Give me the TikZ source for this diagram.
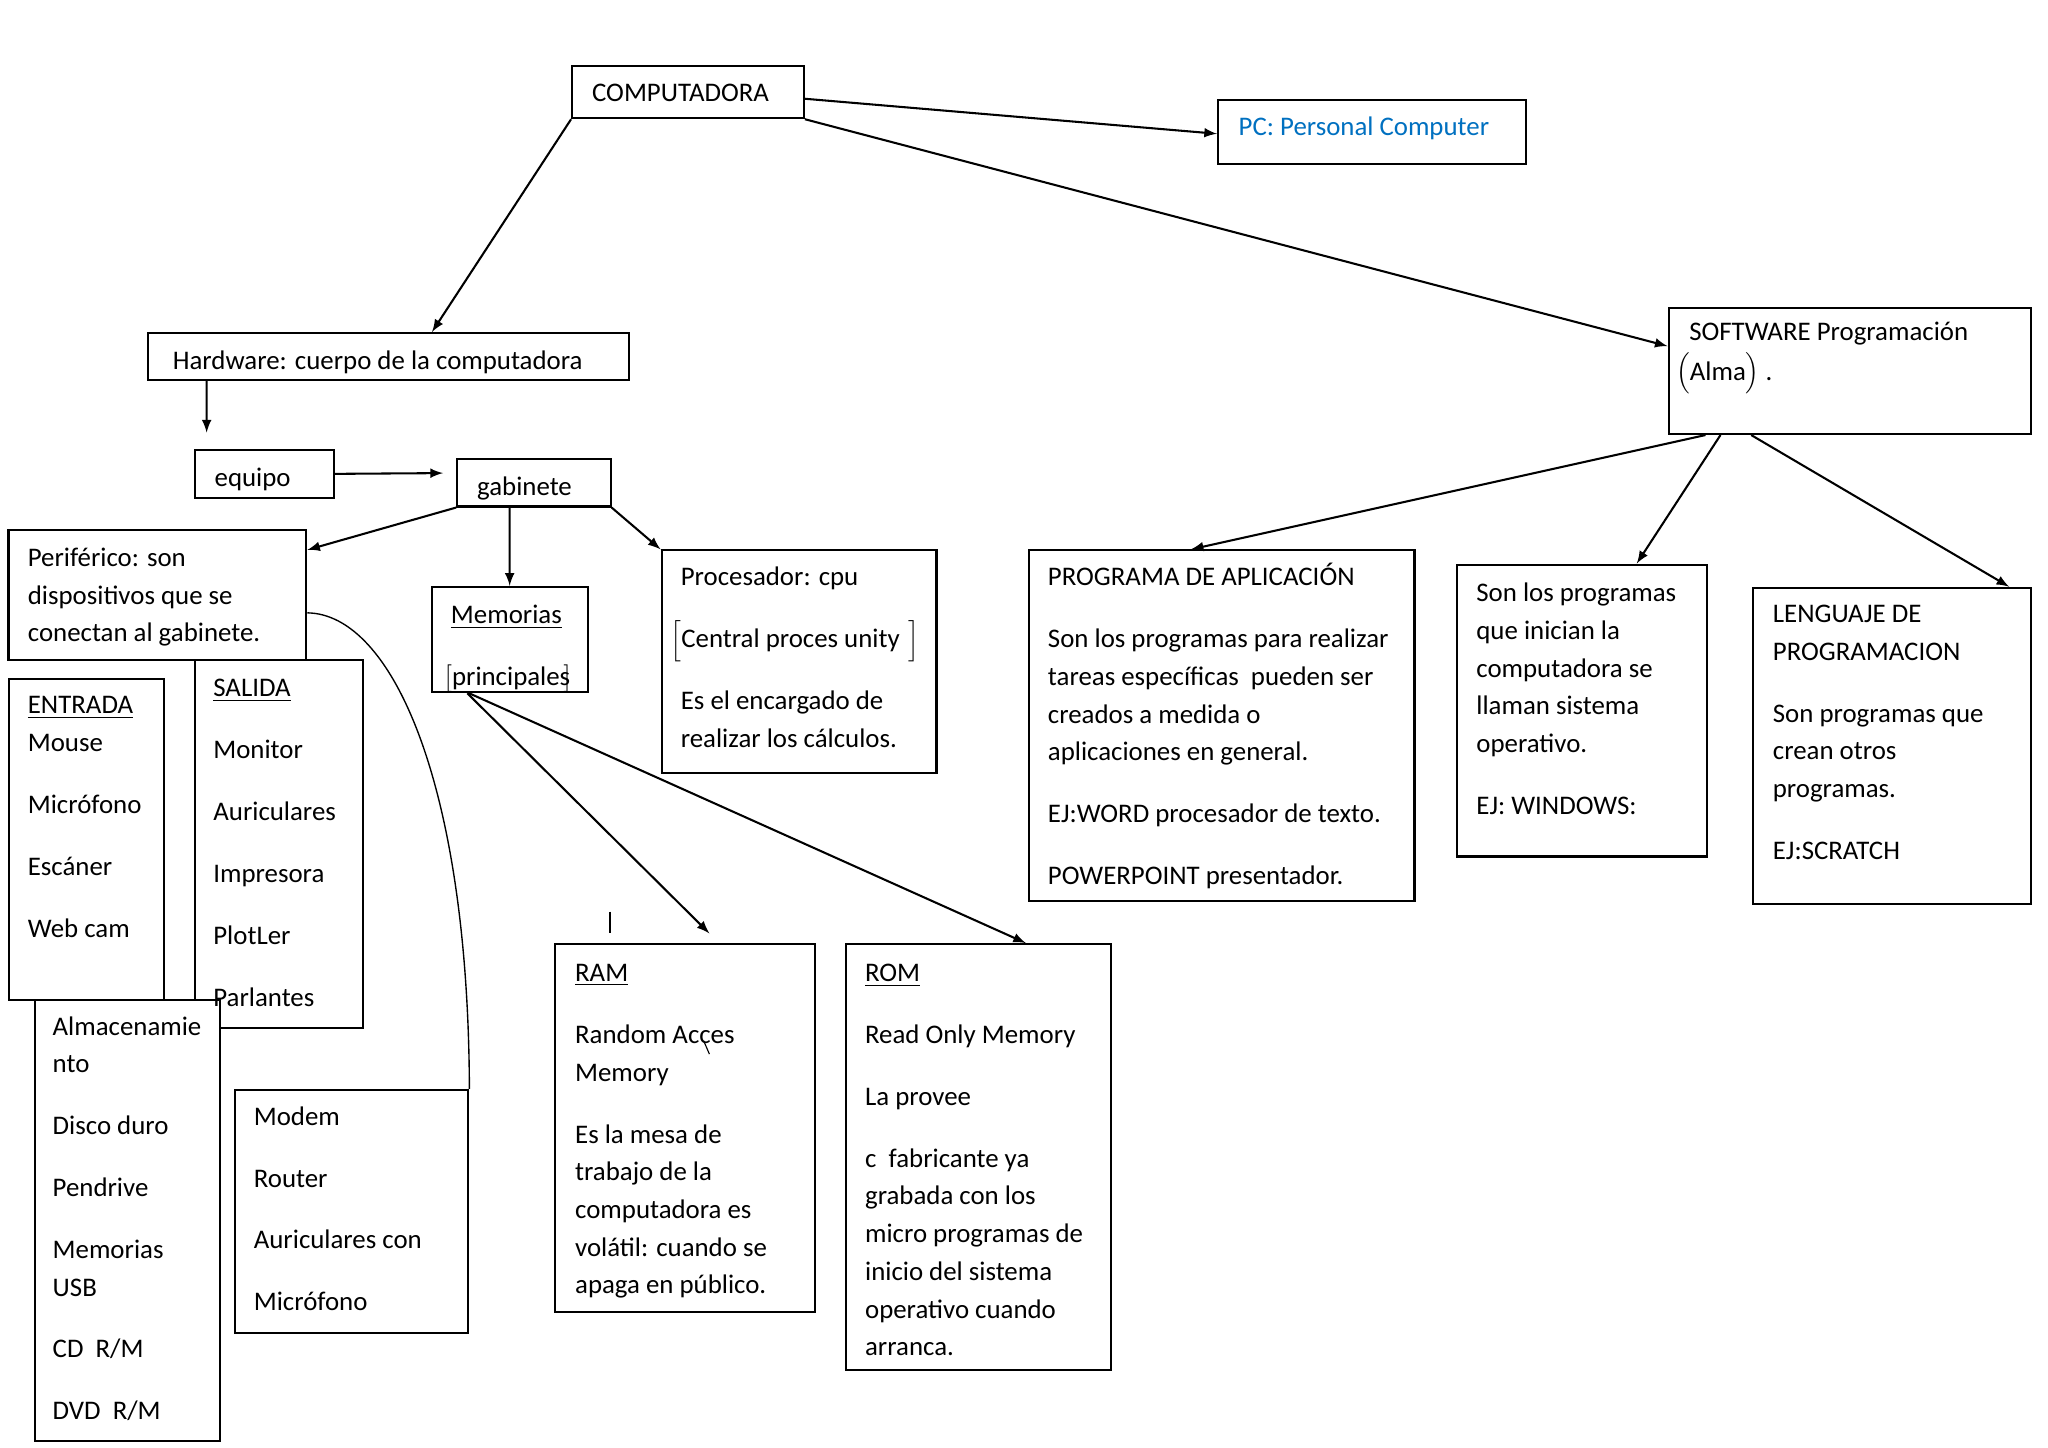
\documentclass[tikz,border=0pt]{standalone}
\usepackage{fontspec}
\setmainfont{Carlito}
\usepackage{xcolor}
\usetikzlibrary{calc}
\definecolor{pcblue}{RGB}{0,112,192}

\begin{document}
\begin{tikzpicture}[x=0.02cm, y=-0.02cm,
	box/.style={shape=rectangle, draw, line width=0.9pt, inner sep=0pt},
	whitebox/.style={box, fill=white},
	txt/.style={anchor=north west, align=left, inner sep=0pt, font=\fontsize{11.7}{16.44}\selectfont},
	arr/.style={-latex, line width=0.9pt}]
	\useasboundingbox (0,0) rectangle (1568,1108.6);
	% Boxes:
	\node[box, minimum width=3.55cm, minimum height=0.806cm] (comp) at (526.75,70.35){};
	\node[box, minimum width=4.72cm, minimum height=0.982cm] (pc) at (1050.5,100.95){};
	\node[box, minimum width=7.37cm, minimum height=0.712cm] (hw) at (297.25,272.8){};
	\node[box, minimum width=2.13cm, minimum height=0.728cm] (equipo) at (202.25,362.8){};
	\node[box, minimum width=2.35cm, minimum height=0.722cm] (gab) at (408.75,369.75){};
	\node[box, minimum width=4.56cm, minimum height=1.984cm] (peri) at (120.5,455.4){};
	\node[box, minimum width=2.39cm, minimum height=1.614cm] (mem) at (390.75,489.65){};
	\node[box, minimum width=4.21cm, minimum height=3.412cm] (proc) at (611.75,506.7){};
	\node[box, minimum width=5.55cm, minimum height=1.93cm] (sw) at (1416.25,284.05){};
	\node[box, minimum width=5.91cm, minimum height=5.372cm] (app) at (935.25,555.7){};
	\node[box, minimum width=3.824cm, minimum height=4.47cm] (so) at (1211,544){};
	\node[box, minimum width=4.258cm, minimum height=4.848cm] (leng) at (1448.45,571.2){};
	\node[box, minimum width=2.376cm, minimum height=4.922cm] (ent) at (66.4,642.65){};
	\node[box, minimum width=2.57cm, minimum height=5.626cm] (sal) at (213.45,646.15){};
	\node[whitebox, minimum width=2.843cm, minimum height=6.746cm] (alm) at (97.675,934.35){};
	\node[box, minimum width=3.572cm, minimum height=3.72cm] (mod) at (269.3,927.4){};
	\node[box, minimum width=3.974cm, minimum height=5.632cm] (ram) at (524.55,863.6){};
	\node[box, minimum width=4.056cm, minimum height=6.524cm] (rom) at (749,885.9){};
	% Texts:
	\node[txt] (comp-t) at (453,57){\strut COMPUTADORA};
	\node[txt, text=pcblue] (pc-t) at (948,83){\strut PC: Personal Computer};
	\node[txt] (hw-t) at (132,262){\strut Hardware: cuerpo de la computadora};
	\node[txt] (equipo-t) at (164,352){\strut equipo};
	\node[txt] (gab-t) at (365,359){\strut gabinete};
	\node[txt] (peri-t) at (21,413){\strut Periférico: son\\ dispositivos que se\\ conectan al gabinete.};
	\node[txt] (mem-t) at (340,457){\strut\kern2.8pt\underline{Memorias}\\[10.5pt] \smash{$\big[$}principales\kern-3pt\smash{$\big]$}};
	\node[txt] (proc-t) at (513,428){\strut\kern4.5pt Procesador: cpu\\[10.5pt] \smash{$\Big[$}Central proces unity\hspace{4pt}\smash{$\Big]$}\\[10.5pt] \kern4.5pt Es el encargado de\\ \kern4.5pt realizar los cálculos.};
	\node[txt, anchor=base west] (sw-t) at (1293,261){SOFTWARE Programación};
	\node[txt, anchor=base west] (alma-t) at (1283,291){\smash{$\Big($}Alma\smash{$\Big)$} .};
	\node[txt] (app-t) at (802,428){\strut PROGRAMA DE APLICACIÓN\\[10.5pt] Son los programas para realizar\\ tareas específicas\ \ pueden ser\\ creados a medida o\\ aplicaciones en general.\\[10.5pt] EJ:WORD procesador de texto.\\[10.5pt] POWERPOINT presentador.};
	\node[txt] (so-t) at (1130,440){\strut Son los programas\\ que inician la\\ computadora se\\ llaman sistema\\ operativo.\\[10.5pt] EJ: WINDOWS:};
	\node[txt] (leng-t) at (1357,456){\strut LENGUAJE DE\\ PROGRAMACION\\[10.5pt] Son programas que\\ crean otros\\ programas.\\[10.5pt] EJ:SCRATCH};
	\node[txt] (ent-t) at (21,526){\strut\underline{ENTRADA}\\ Mouse\\[10.5pt] Micrófono\\[10.5pt] Escáner\\[10.5pt] Web cam};
	\node[txt] (sal-t) at (163,513){\strut\underline{SALIDA}\\[10.5pt] Monitor\\[10.5pt] Auriculares\\[10.5pt] Impresora\\[10.5pt] PlotLer\\[10.5pt] Parlantes};
	\node[txt] (alm-t) at (40,772){\strut Almacenamie\\ nto\\[10.5pt] Disco duro\\[10.5pt] Pendrive\\[10.5pt] Memorias\\ USB\\[10.5pt] CD\ \ R/M\\[10.5pt] DVD\ \ R/M};
	\node[txt] (mod-t) at (194,841){\strut Modem\\[10.5pt] Router\\[10.5pt] Auriculares con\\[10.5pt] Micrófono};
	\node[txt] (ram-t) at (440,731){\strut\underline{RAM}\\[10.5pt] Random Acces\\ Memory\\[10.5pt] Es la mesa de\\ trabajo de la\\ computadora es\\ volátil: cuando se\\ apaga en público.};
	\node[txt] (rom-t) at (662,731){\strut\underline{ROM}\\[10.5pt] Read Only Memory\\[10.5pt] La provee\\[10.5pt] c\ \ fabricante ya\\ grabada con los\\ micro programas de\\ inicio del sistema\\ operativo cuando\\ arranca.};
	% Connectors:
	\draw[arr] (comp.south west) -- ($(hw.north west)+(218.5,0)$);
	\draw[arr] ($(comp.north east)+(0,26.2)$) -- ($(pc.north west)+(0,26.8)$);
	\draw[arr] (comp.south east) -- ($(sw.north west)+(0,30)$);
	\draw[arr] ($(hw.south west)+(46,0)$) -- ($(equipo.north west)+(10,-12.6)$);
	\draw[arr] (equipo.east) -- ($(gab.north west)+(-10,11.3)$);
	\draw[arr] (gab.south west) -- ($(peri.north east)+(0,16)$);
	\draw[arr] ($(gab.south west)+(41,0)$) -- ($(mem.north west)+(60,0)$);
	\draw[arr] (gab.south east) -- (proc.north west);
	\draw[arr] ($(mem.south west)+(27.6,0)$) -- ($(ram.north west)+(118.7,-7.4)$);
	\draw[arr] ($(mem.south west)+(29,0)$) -- ($(rom.north west)+(138.6,0)$);
	\draw[arr] ($(sw.south west)+(29,0)$) -- ($(app.north west)+(125,0)$);
	\draw[arr] ($(sw.south west)+(40.5,0)$) -- ($(so.north west)+(138.5,0)$);
	\draw[arr] ($(sw.south west)+(64,0)$) -- ($(leng.north east)+(-17.4,0)$);
	\draw[line width=0.6pt] ($(peri.north east)+(0,64.2)$) .. controls (300,470) and (358.6,600) .. (mod.north east);
	\draw[line width=0.6pt] ($(ram.north west)+(42.5,-24)$) -- ($(ram.north west)+(42.5,-7.4)$);
	\draw[line width=0.5pt] ($(ram.north west)+(114.3,74.8)$) -- ($(ram.north west)+(118.7,85)$);
\end{tikzpicture}
\end{document}
